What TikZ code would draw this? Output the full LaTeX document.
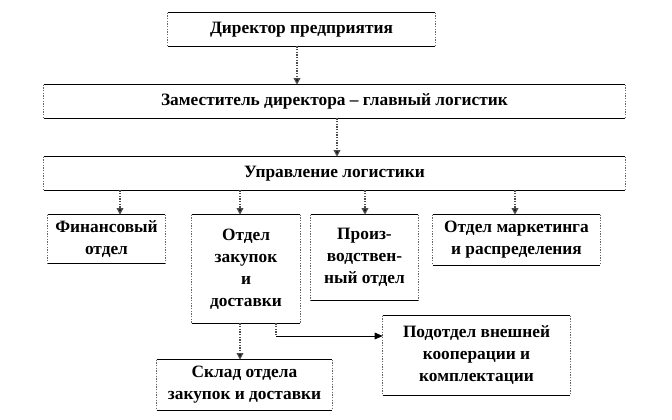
\documentclass[tikz,border=0pt]{standalone}
\usepackage{fontspec}
\setmainfont{Liberation Serif}
\usetikzlibrary{arrows.meta}
\begin{document}
\begin{tikzpicture}[x=0.75pt,y=-0.75pt,
  bx/.style={inner sep=0pt,align=center,font=\bfseries\fontsize{13}{16.5}\selectfont},
  arr/.style={draw=black!70,densely dotted,line width=1pt,-{Triangle[length=5pt,width=5pt,fill=black]}},
  sol/.style={-{Triangle[length=6pt,width=5pt]},line width=0.6pt}]
\useasboundingbox (0,0) rectangle (672,420);
\newcommand\mybox[6]{%
  \node[bx,minimum width={(#4-#2)*0.75pt},minimum height={(#5-#3)*0.75pt}] (#1) at ({(#2+#4)/2},{(#3+#5)/2}) {#6};
  \draw[line width=0.6pt] (#1.north west) -- (#1.north east) (#1.south west) -- (#1.south east);
  \draw[black!60,densely dotted,line width=1pt] (#1.north west) -- (#1.south west) (#1.north east) -- (#1.south east);}
\mybox{dir}{168}{13}{435}{46}{Директор предприятия}
\mybox{dep}{44}{85}{625}{118}{Заместитель директора – главный логистик}
\mybox{upr}{44}{157}{625}{190}{Управление логистики}
\mybox{fin}{48}{215}{165}{263}{Финансовый\\отдел}
\mybox{zak}{192}{215}{300}{323}{Отдел\\закупок\\и\\доставки}
\mybox{pro}{311}{215}{418}{300}{Произ-\\водствен-\\ный отдел}
\mybox{mar}{433}{215}{600}{265}{Отдел маркетинга\\и распределения}
\mybox{pod}{383}{316}{570}{395}{Подотдел внешней\\кооперации и\\комплектации}
\mybox{skl}{157}{360}{332}{410}{Склад отдела\\закупок и доставки}
\draw[arr] (dir.south -| 297,0) -- (dep.north -| 297,0);
\draw[arr] (dep.south -| 337,0) -- (upr.north -| 337,0);
\foreach \t/\x in {fin/120,zak/240,pro/365,mar/515}
  \draw[arr] (upr.south -| \x,0) -- (\t.north -| \x,0);
\draw[arr] (zak.south -| 240,0) -- (skl.north -| 240,0);
\draw[black!70,densely dotted,line width=1pt] (zak.south -| 276,0) -- (276,336);
\coordinate (el) at (276,336);
\draw[sol] (el) -- (el -| pod.west);
\end{tikzpicture}
\end{document}
